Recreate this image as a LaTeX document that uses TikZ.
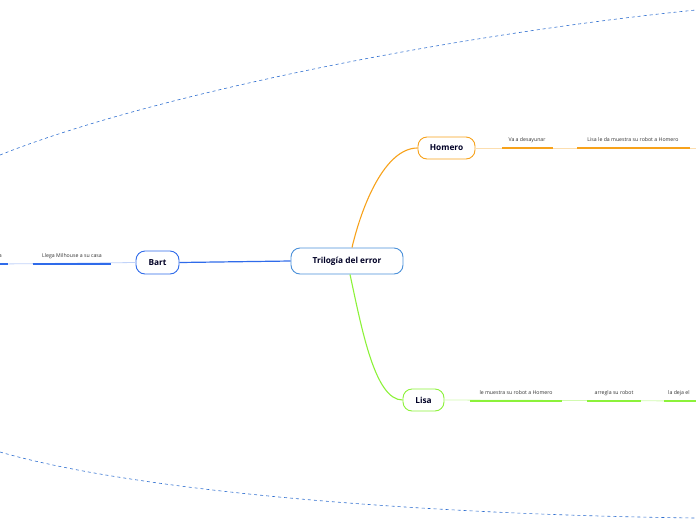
\documentclass[tikz,border=0pt]{standalone}
\usepackage{fontspec}
\setmainfont{Open Sans}
\begin{document}
\begin{tikzpicture}[x=1pt,y=-1pt,
  main/.style={draw=#1,line width=0.9pt,rounded corners=9pt,fill=white,font=\bfseries\fontsize{8.3}{10}\selectfont,text=black!75!blue!60!black},
  sub/.style={font=\fontsize{5.2}{6}\selectfont,text=black!80,inner sep=1pt},
  bound/.style={dashed,line width=0.6pt}]
\useasboundingbox (0,0) rectangle (696,520);
\definecolor{cblue}{HTML}{4A90D9}
\definecolor{bblue}{HTML}{2F6BEA}
\definecolor{hor}{HTML}{F7A21B}
\definecolor{lgr}{HTML}{8CF23A}
\definecolor{dbl}{HTML}{2F6FD0}
% boundaries
\coordinate (t0) at (0,155); \coordinate (t1) at (696,10);
\coordinate (b0) at (0,452); \coordinate (b1) at (696,518);
\draw[bound,draw=dbl] (t0) .. controls (150,95) and (450,35) .. (t1);
\draw[bound,draw=dbl] (b0) .. controls (150,495) and (450,515) .. (b1);
\coordinate (hend) at (696,148); \coordinate (bend) at (0,264); \coordinate (lend) at (696,401);
\node[main=cblue,minimum width=112pt,minimum height=26pt] (c) at (347,261) {Trilogía del error};
\node[main=bblue,minimum width=43pt,minimum height=23pt] (bart) at (157.5,262.5) {Bart};
\node[main=hor,minimum width=57pt,minimum height=22pt] (hom) at (446.5,148) {Homero};
\node[main=lgr,minimum width=41pt,minimum height=22pt] (lisa) at (423.5,400) {Lisa};
\draw[hor!35,line width=0.8pt] (hom.east) -- (hend);
\draw[bblue!30,line width=0.8pt] (bart.west) -- (bend);
\draw[lgr!40,line width=0.8pt] (lisa.east) -- (lend);
\draw[bblue,line width=1.2pt] (c.west) -- (bart.east);
\draw[hor,line width=1.1pt] (c.north) ++(5,0) coordinate (hs) .. controls (362,205) and (385,148) .. (hom.west);
\draw[lgr,line width=1.1pt] (c.south) ++(3,0) coordinate (ls) .. controls (362,330) and (375,400) .. (lisa.west);
\draw[hor,line width=1.2pt] (502,148) -- (553,148);
\draw[hor,line width=1.2pt] (577,148) -- (690,148);
\node[sub] (h1) at (527,140) {Va a desayunar};
\node[sub] (h2) at (633,140) {Lisa le da muestra su robot a Homero};
\draw[bblue,line width=1.2pt] (33,264) -- (111,264);
\draw[bblue,line width=1.2pt] (0,264) -- (8,264);
\node[sub] (b1t) at (72,256) {Llega Milhouse a su casa};
\node[sub,anchor=east] (b2t) at (3,256) {a};
\draw[lgr,line width=1.2pt] (470,401) -- (562,401);
\draw[lgr,line width=1.2pt] (587,401) -- (641,401);
\draw[lgr,line width=1.2pt] (664,401) -- (696,401);
\node[sub] (l1) at (516,393) {le muestra su robot a Homero};
\node[sub] (l2) at (614,393) {arregla su robot};
\node[sub,anchor=west] (l3) at (667,393) {la deja el};
\end{tikzpicture}
\end{document}
